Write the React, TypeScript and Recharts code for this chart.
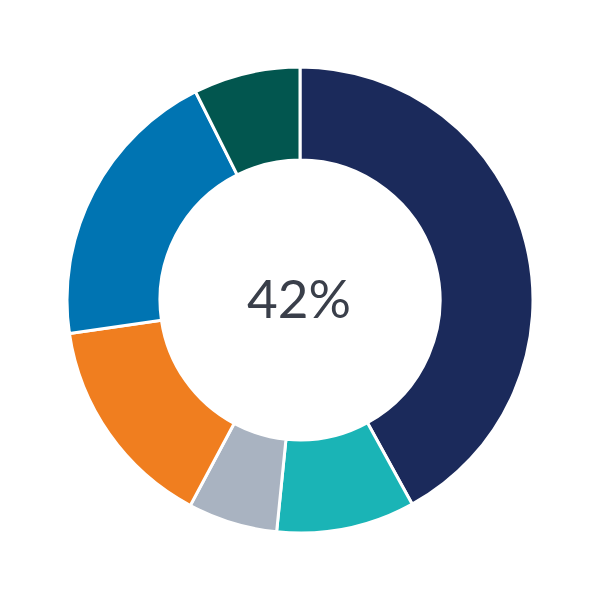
import { Cell, Pie, PieChart } from "recharts";

/* ---------- slice data, clockwise from 12 o'clock ---------- */
const segments = ["A", "B", "C", "D", "E", "F"];
const shares = [42, 9.6, 6.2, 14.9, 19.9, 7.4];
const colors = ["#1b2a5b", "#1ab4b6", "#a9b3c1", "#f07e1f", "#0074b2", "#02564f"];
const centerLabel = "42%";

const data = segments.map((name, i) => ({ name, value: shares[i] }));

export default function App() {
  return (
    <div style={{ position: "absolute", left: 0, top: 0, width: 600, height: 600, background: "#fff" }}>
      <PieChart width={600} height={600} margin={{ top: 0, right: 0, bottom: 0, left: 0 }}>
        <Pie
          data={data}
          dataKey="value"
          nameKey="name"
          cx={300}
          cy={300}
          innerRadius={140}
          outerRadius={233}
          startAngle={90}
          endAngle={-270}
          stroke="#ffffff"
          strokeWidth={3}
          isAnimationActive={false}
        >
          {data.map((_, i) => (
            <Cell key={i} fill={colors[i]} />
          ))}
        </Pie>
        <text
          x={299}
          y={297}
          textAnchor="middle"
          dominantBaseline="central"
          fill="#3a3f4a"
          style={{ fontFamily: "Lato, 'Open Sans', sans-serif", fontSize: 53, fontWeight: 400 }}
        >
          {centerLabel}
        </text>
      </PieChart>
    </div>
  );
}
